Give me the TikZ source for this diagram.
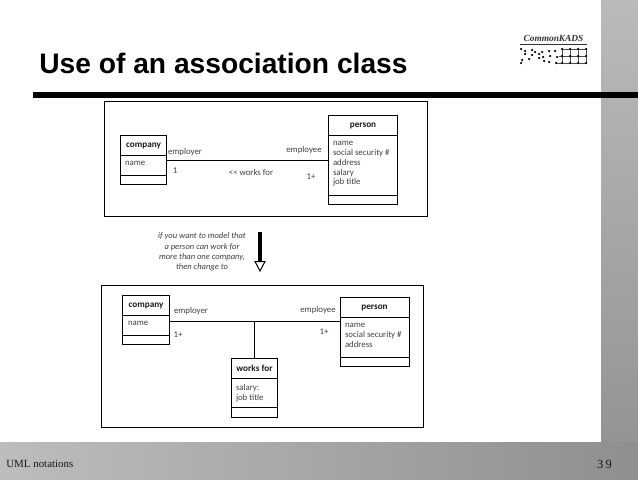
\documentclass[tikz,border=0pt]{standalone}
\usepackage{fontspec}
\setmainfont{Carlito}
\newfontfamily\titlefont{Liberation Sans}
\newfontfamily\footfont{Liberation Serif}
\usetikzlibrary{arrows.meta}
\tikzset{
  x=0.75pt,y=-0.75pt,
  frame/.style={draw=black,line width=0.75pt,fill=white},
  linkline/.style={draw=black,line width=0.75pt},
  umlbox/.style={draw=black,line width=0.75pt,fill=white,inner sep=0pt,outer sep=0pt,anchor=north west},
  lbl/.style={inner sep=0pt,outer sep=0pt,text=black!75,font=\fontsize{6.6pt}{7.35pt}\selectfont},
  attr/.style={lbl,anchor=north west,align=left},
  head/.style={lbl,text=black!90,font=\fontsize{6.9pt}{7.35pt}\selectfont\bfseries},
  note/.style={lbl,align=center,font=\fontsize{6.4pt}{7.8pt}\selectfont\itshape},
}
\newcommand{\umlclass}[7]{% name,x1,x2,y0,y1,y2,y3
  \node[umlbox,minimum width=#3*0.75pt-#2*0.75pt,minimum height=#7*0.75pt-#4*0.75pt] (#1) at (#2,#4) {};
  \draw[linkline] (#2,#5) -- (#3,#5);
  \draw[linkline] (#2,#6) -- (#3,#6);
}
\begin{document}
\begin{tikzpicture}
\useasboundingbox (0,0) rectangle (638,479);
\fill[white] (0,0) rectangle (638,479);
% grey bands
\shade[top color=black!27,bottom color=black!42] (601,0) rectangle (638,442);
\shade[left color=black!26,right color=black!44] (0,442) rectangle (638,479);
% title and rule
\node[anchor=west,inner sep=0pt,font=\titlefont\bfseries\fontsize{21.15pt}{25pt}\selectfont] (title) at (39,63) {Use of an association class};
\fill[black] (33,91.5) rectangle (638,97.5);
% logo
\node[inner sep=0pt,font=\footfont\itshape\bfseries\fontsize{7pt}{8pt}\selectfont,text=black!80] (logo) at (553.5,38.5) {CommonKADS};
\fill[black!80] (520,43.6) rectangle (587,44.8);
\draw[black!70,line width=0.35pt] (562,49.5) -- (586,49.5) (559,56) -- (586,56) (556,63) -- (586,63)
  (562,49.5) -- (562,63) (570,49.5) -- (570,63) (578,49.5) -- (578,63) (586,49.5) -- (586,63);
\foreach \px/\py in {521/49,525/51,532/50,535/52,542/52,549/51,555/51,562/49,570/49,578/49,586/49,
  525/54,532/55,539/54,543/57,550/56,557/57,562/56,570/56,578/56,586/56,
  522/60,529/59,539/58,544/61,549/62,556/63,562/63,570/63,578/63,586/63,521/63}
  \fill[black] (\px,\py) circle[radius=1.25];
% footer
\node[anchor=west,inner sep=0pt,font=\footfont\fontsize{8.2pt}{10pt}\selectfont,text=black!90] (foot) at (6,464) {UML notations};
\node[anchor=center,inner sep=0pt,font=\footfont\fontsize{9.4pt}{10pt}\selectfont,text=black!90] (page) at (604.5,464) {3\,9};
% upper frame
\draw[frame] (104.5,101.5) rectangle (427.5,216.5);
\umlclass{coA}{120.5}{166.5}{135.5}{155.5}{175.5}{184.5}
\umlclass{peA}{328.5}{397.5}{115.5}{135.5}{195.5}{204.5}
\draw[linkline] (coA.east) -- (peA.west);
\node[head] (coAt) at (143.5,146) {company};
\node[attr] (coAa) at (125,161.5) {name};
\node[head] (peAt) at (363,126) {person};
\node[attr] (peAa) at (333,141.5) {name\\social security \#\\address\\salary\\job title};
\node[lbl] (l1) at (185,152.5) {employer};
\node[lbl] (l2) at (304,150.5) {employee};
\node[lbl] (l3) at (175,171) {1};
\node[lbl] (l4) at (251,172) {<{}< works for};
\node[lbl] (l5) at (311,176.5) {1+};
% note and arrow
\node[note] (nt) at (202,252) {if you want to model that\\a person can work for\\more than one company,\\then change to};
\coordinate (arA) at (260,232);
\coordinate (arB) at (260,271);
\draw[line width=2.4pt,black] (arA) -- (260,262);
\draw[fill=white,draw=black,line width=0.75pt] (255,261.5) -- (265,261.5) -- (arB) -- cycle;
% lower frame
\draw[frame] (101.5,285.5) rectangle (423.5,427.5);
\umlclass{coB}{122.5}{169.5}{295.5}{315.5}{335.5}{344.5}
\umlclass{peB}{340.5}{409.5}{297.5}{317.5}{357.5}{366.5}
\umlclass{wf}{231.5}{277.5}{358.5}{378.5}{407.5}{417.5}
\coordinate (jn) at (254.5,321.5);
\draw[linkline] (coB.east |- jn) -- (peB.west |- jn);
\draw[linkline] (jn) -- (wf.north);
\node[head] (coBt) at (146,306) {company};
\node[attr] (coBa) at (128,321.5) {name};
\node[head] (peBt) at (374.5,308) {person};
\node[attr] (peBa) at (345,323.5) {name\\social security \#\\address};
\node[head] (wft) at (254.5,368.5) {works for};
\node[attr] (wfa) at (236,384.5) {salary:\\job title};
\node[lbl] (m1) at (191,311.5) {employer};
\node[lbl] (m2) at (318,310.5) {employee};
\node[lbl] (m3) at (178,335) {1+};
\node[lbl] (m4) at (324,332) {1+};
\end{tikzpicture}
\end{document}
